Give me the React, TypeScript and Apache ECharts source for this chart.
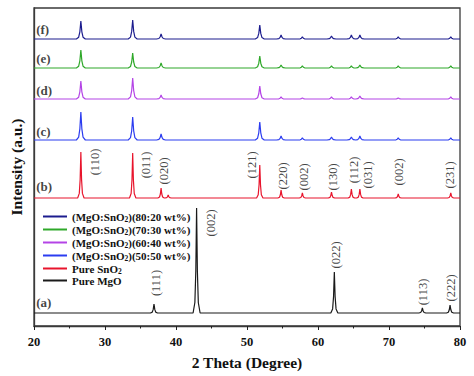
import React, { useEffect, useRef } from "react";
import * as echarts from "echarts";

// ---- Data (2θ in degrees, intensity in a.u.) ----
const THETA_SNO2 = [26.6, 33.9, 37.9, 38.9, 51.8, 54.8, 57.8, 61.9, 64.7, 65.9, 71.3, 78.7];
const I_SNO2 = [46, 45, 10, 3, 33, 8, 5, 6, 9, 9, 4, 5];
const THETA_MIX = [26.6, 33.9, 37.9, 51.8, 54.8, 57.8, 61.9, 64.7, 65.9, 71.3, 78.7];
const I_50_50 = [28, 23, 6, 18, 4, 2, 3, 3, 4, 2, 2];
const I_60_40 = [18, 21, 4, 13, 2, 1, 2, 2, 3, 1, 2];
const I_70_30 = [18, 15, 5, 12, 3, 2, 2, 2, 3, 2, 2];
const I_80_20 = [18, 19, 5, 14, 4, 2, 3, 4, 4, 2, 2];
const THETA_MGO = [36.9, 42.9, 62.3, 74.7, 78.6];
const I_MGO = [9, 105, 41, 5, 8];

// vertical offsets of each stacked pattern
const OFFSETS = { a: 13, b: 128, c: 186, d: 227, e: 258, f: 287 };

const SERIES_NAMES = [
  "(MgO:SnO2)(80:20 wt%)",
  "(MgO:SnO2)(70:30 wt%)",
  "(MgO:SnO2)(60:40 wt%)",
  "(MgO:SnO2)(50:50 wt%)",
  "Pure SnO2",
  "Pure MgO",
];
const COLORS = ["#1c1c8e", "#2fa82a", "#b444e6", "#2b3cf0", "#e8142c", "#1a1a1a"];

// hkl annotations (label position in data units)
const HKL_SNO2 = ["(110)", "(011)", "(020)", "(121)", "(220)", "(002)", "(130)", "(112)", "(031)", "(002)", "(231)"];
const HKL_SNO2_X = [28.6, 35.8, 38.25, 50.7, 55.05, 58.0, 62.1, 65.0, 67.0, 71.45, 78.6];
const HKL_SNO2_Y = [164, 161, 155, 161, 150, 149, 149, 156, 151, 154, 151];
const HKL_MGO = ["(111)", "(002)", "(022)", "(113)", "(222)"];
const HKL_MGO_X = [37.25, 44.95, 62.5, 74.85, 78.75];
const HKL_MGO_Y = [43, 103, 71, 34, 38];

const SAMPLE_TAGS = ["(f)", "(e)", "(d)", "(c)", "(b)", "(a)"];
const SAMPLE_TAG_Y = [297, 268, 236, 195, 140, 24];

// line-profile shape used to draw each peak (offset in degrees, fraction of height)
const PROFILE_DX = [-0.45, -0.22, -0.1, 0, 0.1, 0.22, 0.45];
const PROFILE_F = [0, 0.1, 0.4, 1, 0.4, 0.1, 0];

function pattern(theta: number[], inten: number[], base: number, w: number) {
  const pts: number[][] = [[20, base]];
  theta.forEach((t, i) => {
    PROFILE_DX.forEach((dx, k) => pts.push([t + dx * w, base + inten[i] * PROFILE_F[k]]));
  });
  pts.push([80, base]);
  return pts;
}

const SERIF = "'Liberation Serif', 'DejaVu Serif', serif";

export default function App() {
  const ref = useRef<HTMLDivElement>(null);
  useEffect(() => {
    if (!ref.current) return;
    const chart = echarts.init(ref.current, undefined, { renderer: "svg" });
    const datas = [
      pattern(THETA_MIX, I_80_20, OFFSETS.f, 1.4),
      pattern(THETA_MIX, I_70_30, OFFSETS.e, 1.4),
      pattern(THETA_MIX, I_60_40, OFFSETS.d, 1.4),
      pattern(THETA_MIX, I_50_50, OFFSETS.c, 1.4),
      pattern(THETA_SNO2, I_SNO2, OFFSETS.b, 1.0),
      pattern(THETA_MGO, I_MGO, OFFSETS.a, 1.1),
    ];
    const lineSeries = SERIES_NAMES.map((name, i) => ({
      name,
      type: "line",
      data: datas[i],
      showSymbol: false,
      symbol: "none",
      lineStyle: { color: COLORS[i], width: 1.2 },
      itemStyle: { color: COLORS[i] },
      z: 2,
    }));
    const annot = (labels: string[], xs: number[], ys: number[]) => ({
      type: "scatter",
      silent: true,
      symbolSize: 0,
      data: labels.map((l, i) => [xs[i], ys[i], l]),
      label: {
        show: true,
        position: "inside",
        rotate: 90,
        formatter: (p: any) => p.data[2],
        fontFamily: SERIF,
        fontSize: 12.5,
        color: "#111",
      },
      z: 3,
    });
    const tagSeries = {
      type: "scatter",
      silent: true,
      symbolSize: 0,
      data: SAMPLE_TAGS.map((t, i) => [20.3, SAMPLE_TAG_Y[i], t]),
      label: {
        show: true,
        position: "inside",
        align: "left",
        formatter: (p: any) => p.data[2],
        fontFamily: SERIF,
        fontWeight: "bold",
        fontSize: 13,
        color: "#111",
      },
      z: 3,
    };
    chart.setOption({
      animation: false,
      backgroundColor: "#fff",
      grid: { left: 32, right: 14, top: 8, bottom: 50, show: true, borderColor: "#3a3a3a", borderWidth: 1.3 },
      legend: {
        data: SERIES_NAMES,
        orient: "vertical",
        left: 38,
        top: 205,
        itemWidth: 24,
        itemHeight: 2,
        itemGap: 0,
        icon: "rect",
        selectedMode: false,
        formatter: (name: string) => {
          const idx = name.indexOf("SnO2");
          if (idx < 0) return `{n|${name}}`;
          return `{n|${name.slice(0, idx + 3)}}{s|2}{n|${name.slice(idx + 4)}}`;
        },
        textStyle: {
          rich: {
            n: { fontFamily: SERIF, fontWeight: "bold", fontSize: 11, color: "#111", lineHeight: 12.5 },
            s: { fontFamily: SERIF, fontWeight: "bold", fontSize: 7.5, color: "#111", lineHeight: 12.5, padding: [5, 0, 0, 0] },
          },
        },
      },
      xAxis: {
        type: "value",
        min: 20,
        max: 80,
        interval: 10,
        name: "2 Theta (Degree)",
        nameLocation: "middle",
        nameGap: 28,
        nameTextStyle: { fontFamily: SERIF, fontWeight: "bold", fontSize: 15.5, color: "#111" },
        axisLine: { show: true, lineStyle: { color: "#3a3a3a", width: 1.3 } },
        axisTick: { show: true, length: 4, lineStyle: { color: "#222" } },
        minorTick: { show: true, splitNumber: 2, length: 2.5, lineStyle: { color: "#222" } },
        axisLabel: { fontFamily: SERIF, fontWeight: "bold", fontSize: 12.5, color: "#111", margin: 9 },
        splitLine: { show: false },
      },
      yAxis: {
        type: "value",
        min: 0,
        max: 318,
        name: "Intensity (a.u.)",
        nameLocation: "middle",
        nameGap: 10,
        nameTextStyle: { fontFamily: SERIF, fontWeight: "bold", fontSize: 15.5, color: "#111" },
        axisLine: { show: true, lineStyle: { color: "#3a3a3a", width: 1.3 } },
        axisTick: { show: false },
        axisLabel: { show: false },
        splitLine: { show: false },
      },
      series: [
        ...lineSeries,
        annot(HKL_SNO2, HKL_SNO2_X, HKL_SNO2_Y),
        annot(HKL_MGO, HKL_MGO_X, HKL_MGO_Y),
        tagSeries,
      ],
    });
    return () => chart.dispose();
  }, []);
  return <div ref={ref} style={{ width: 474, height: 376, position: "absolute", left: 0, top: 0 }} />;
}
